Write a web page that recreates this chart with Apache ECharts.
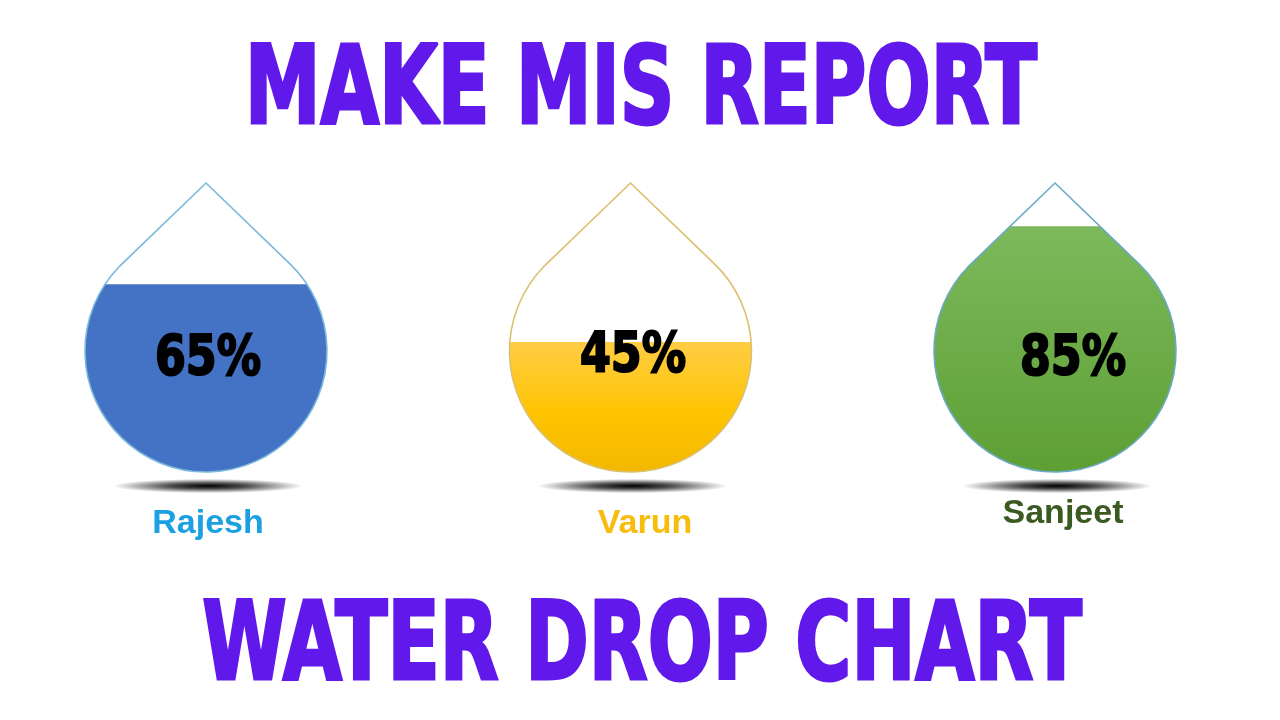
<!DOCTYPE html>
<html><head><meta charset="utf-8">
<script src="https://cdn.jsdelivr.net/npm/echarts@6/dist/echarts.min.js"></script>
<style>html,body{margin:0;padding:0;background:#fff}#c{width:1280px;height:720px}</style>
</head><body><div id="c"></div>
<script>
// ---- data ----
const categories = ['Rajesh', 'Varun', 'Sanjeet'];
const values = [65, 45, 85];
const titleTop = 'MAKE MIS REPORT';
const titleBottom = 'WATER DROP CHART';

// ---- styles / layout ----
const fillStops = [
  [['#4472c4', 0], ['#4472c4', 1]],
  [['#ffcd45', 0], ['#ffc400', 0.55], ['#f2b800', 1]],
  [['#7cb95c', 0], ['#5e9f34', 1]]
];
const outlineColors = ['#7ab8dc', '#dcc06e', '#6aaac6'];
const nameColors = ['#1ba1e2', '#f8bc0c', '#3b5a22'];
const labelShift = [[2, 0], [2.5, -3], [18, 0]];
const nameShift = [[2, 0], [14.5, 0], [8, -10]];
const R = 121;
const CONDENSED = '"Liberation Sans Narrow", "DejaVu Sans Condensed", sans-serif';

const chart = echarts.init(document.getElementById('c'));

function grad(stops) {
  return new echarts.graphic.LinearGradient(0, 0, 0, 1,
    stops.map(s => ({ offset: s[1], color: s[0] })));
}

function renderItem(params, api) {
  const idx = api.value(0);
  const v = api.value(1);
  const base = api.coord([idx, 0]);
  const top = api.coord([idx, 100]);
  const lvl = api.coord([idx, v]);
  const cx = base[0], by = base[1], ty = top[1], ly = lvl[1];
  const r = R;
  const cy = by - r;
  const d = cy - ty;
  const cosP = r / d, sinP = Math.sqrt(1 - cosP * cosP);
  const tx = r * sinP, tyT = cy - r * cosP;
  const outline = `M${cx},${ty} L${cx + tx},${tyT} A${r},${r} 0 1 1 ${cx - tx},${tyT} Z`;
  let fillPath;
  if (ly >= tyT) {
    const dy = ly - cy;
    const dx = Math.sqrt(Math.max(0, r * r - dy * dy));
    const large = dy < 0 ? 1 : 0;
    fillPath = `M${cx - dx},${ly} L${cx + dx},${ly} A${r},${r} 0 ${large} 1 ${cx - dx},${ly} Z`;
  } else {
    const w = (ly - ty) / (tyT - ty) * tx;
    fillPath = `M${cx - w},${ly} L${cx + w},${ly} L${cx + tx},${tyT} A${r},${r} 0 1 1 ${cx - tx},${tyT} Z`;
  }
  return {
    type: 'group',
    children: [
      {
        type: 'circle', x: cx + 2, y: by + 14, scaleY: 0.075,
        shape: { cx: 0, cy: 0, r: 95 },
        style: {
          fill: new echarts.graphic.RadialGradient(0.5, 0.5, 0.5, [
            { offset: 0, color: 'rgba(0,0,0,1)' },
            { offset: 0.4, color: 'rgba(0,0,0,0.7)' },
            { offset: 1, color: 'rgba(0,0,0,0)' }
          ])
        }
      },
      { type: 'path', shape: { pathData: outline }, style: { fill: '#ffffff' } },
      { type: 'path', shape: { pathData: fillPath }, style: { fill: grad(fillStops[idx]) } },
      { type: 'path', shape: { pathData: outline }, style: { fill: 'none', stroke: outlineColors[idx], lineWidth: 1.6 } },
      {
        type: 'text', x: cx + labelShift[idx][0], y: cy + 8.5 + labelShift[idx][1], scaleX: 0.88,
        style: {
          text: v + '%', fill: '#000', stroke: '#000', lineWidth: 2,
          font: 'bold 56px ' + CONDENSED,
          align: 'center', verticalAlign: 'middle',
          shadowBlur: 4, shadowColor: 'rgba(255,255,255,0.7)'
        }
      },
      {
        type: 'text', x: cx + nameShift[idx][0], y: by + 52 + nameShift[idx][1],
        style: {
          text: categories[idx], fill: nameColors[idx],
          font: 'bold 34px "Liberation Sans", Arial, sans-serif',
          align: 'center', verticalAlign: 'middle'
        }
      }
    ]
  };
}

chart.setOption({
  animation: false,
  backgroundColor: '#ffffff',
  grid: { left: 206, right: 225, top: 183, bottom: 248 },
  xAxis: { type: 'value', min: 0, max: 2, show: false },
  yAxis: { type: 'value', min: 0, max: 100, show: false },
  graphic: [
    {
      type: 'text', x: 641, y: 94.5, scaleX: 0.78,
      style: {
        text: titleTop, fill: '#6119eb', stroke: '#6119eb', lineWidth: 3,
        font: 'bold 108px ' + CONDENSED,
        align: 'center', verticalAlign: 'middle'
      }
    },
    {
      type: 'text', x: 642, y: 651, scaleX: 0.787,
      style: {
        text: titleBottom, fill: '#6119eb', stroke: '#6119eb', lineWidth: 3,
        font: 'bold 108px ' + CONDENSED,
        align: 'center', verticalAlign: 'middle'
      }
    }
  ],
  series: [{
    type: 'custom',
    renderItem: renderItem,
    data: values.map((v, i) => [i, v]),
    clip: false
  }]
});
</script>
</body></html>
